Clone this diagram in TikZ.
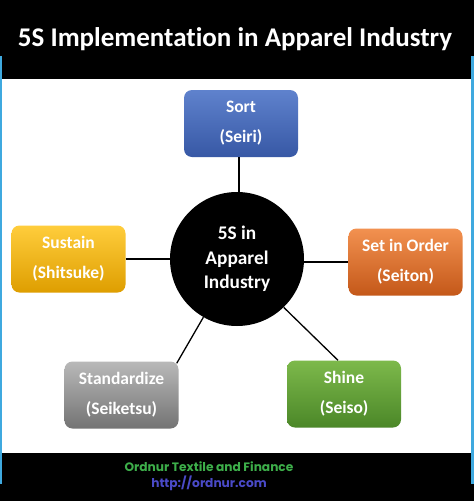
\documentclass[tikz,border=0pt]{standalone}
\usepackage{fontspec}
\setmainfont{Carlito}[Ligatures=NoCommon]
\newfontfamily\footfont{Poppins}
\usetikzlibrary{positioning}
\definecolor{frameblue}{HTML}{3FA9DF}
\definecolor{footgreen}{HTML}{3DAE4A}
\definecolor{footblue}{HTML}{4A4AC8}
\definecolor{sorttop}{RGB}{95,130,205}
\definecolor{sortbot}{RGB}{55,88,165}
\definecolor{sustaintop}{RGB}{255,205,60}
\definecolor{sustainbot}{RGB}{222,158,0}
\definecolor{ordertop}{RGB}{242,145,80}
\definecolor{orderbot}{RGB}{196,88,25}
\definecolor{standtop}{RGB}{185,185,185}
\definecolor{standbot}{RGB}{115,115,115}
\definecolor{shinetop}{RGB}{125,185,75}
\definecolor{shinebot}{RGB}{75,135,40}
\tikzset{
  sbox/.style={rounded corners=8pt, minimum width=114pt, minimum height=67pt, align=center,
    text=white, font=\fontsize{17.5}{30}\selectfont\bfseries, inner sep=0pt},
  link/.style={black, line width=1.3pt}
}
\begin{document}
\begin{tikzpicture}[x=1pt,y=-1pt]
\useasboundingbox (0,0) rectangle (474,501);
\fill[black] (0,0) rectangle (474,501);
\fill[frameblue] (0,56) rectangle (474,484);
\fill[black] (2,56) rectangle (471,484);
\fill[white] (2,79) rectangle (471,453);
\node[text=white, font=\fontsize{27}{30}\selectfont\bfseries] (title) at (235,39) {5S Implementation in Apparel Industry};

\node[circle, fill=black, minimum size=134pt, inner sep=0pt, align=center, text=white,
  font=\fontsize{19.3}{24.5}\selectfont\bfseries] (core) at (237,259) {5S in\\Apparel\\Industry};
\node[sbox, top color=sorttop, bottom color=sortbot] (sort) at (241,123.5) {Sort\\(Seiri)};
\node[sbox, top color=sustaintop, bottom color=sustainbot] (sustain) at (68.5,259) {Sustain\\(Shitsuke)};
\node[sbox, top color=ordertop, bottom color=orderbot] (order) at (405.5,262) {Set in Order\\(Seiton)};
\node[sbox, top color=standtop, bottom color=standbot] (stand) at (121.5,395) {Standardize\\(Seiketsu)};
\node[sbox, top color=shinetop, bottom color=shinebot] (shine) at (344,394) {Shine\\(Seiso)};

\draw[link] ([xshift=2pt]sort.south -| core.north) -- ([xshift=2pt]core.north);
\draw[link] (sustain.east) -- (core.west);
\draw[link] (core.east |- order.west) -- (order.west);
\draw[link] (core.240) -- ([xshift=-2pt,yshift=-2pt]stand.north east);
\draw[link] (core.314) -- ([xshift=-6pt]shine.north);

\node[text=footgreen, font=\footfont\fontsize{12.2}{14}\selectfont\bfseries] (firm) at (209,467) {Ordnur Textile and Finance};
\node[text=footblue, font=\footfont\fontsize{12.2}{14}\selectfont\bfseries, below=-3pt of firm] (web) {http://ordnur.com};
\end{tikzpicture}
\end{document}
